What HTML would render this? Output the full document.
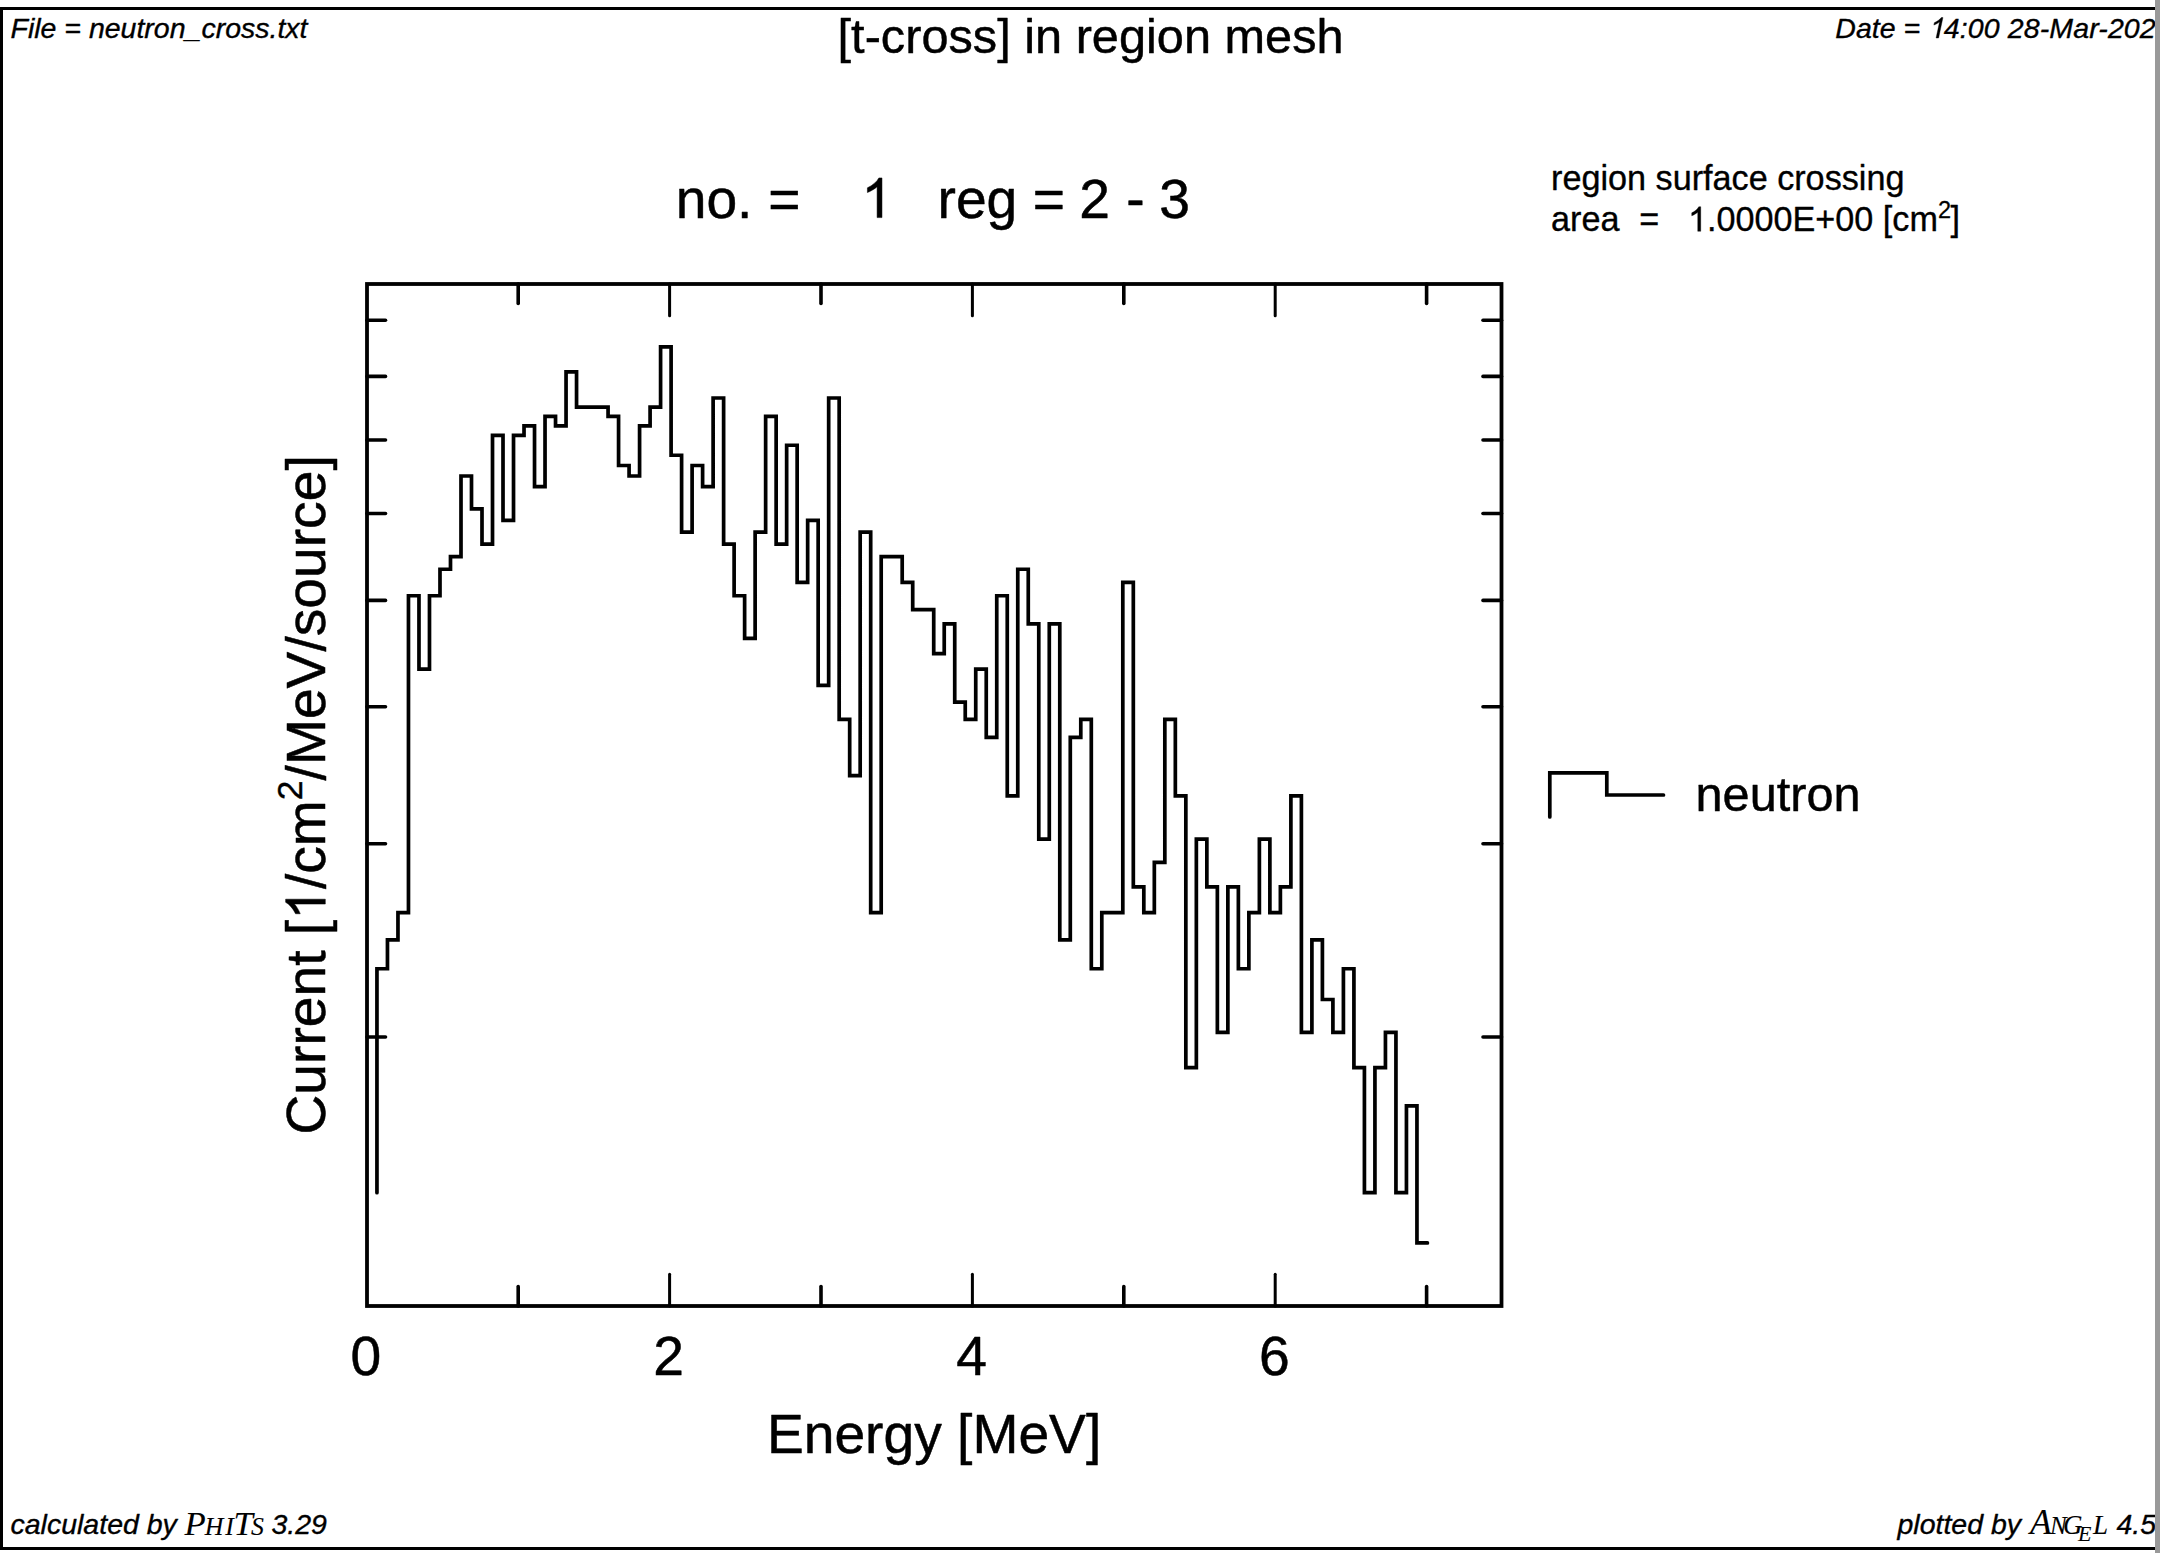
<!DOCTYPE html>
<html><head><meta charset="utf-8"><title>t-cross</title>
<style>
html,body{margin:0;padding:0;background:#fff;}
body{width:2160px;height:1553px;overflow:hidden;position:relative;font-family:"Liberation Sans",sans-serif;}
svg{position:absolute;left:0;top:0;display:block}
svg text{font-family:"Liberation Sans",sans-serif;fill:#000;stroke:#000;stroke-linejoin:round}
.b{stroke-width:0.5px}
.t{stroke-width:0.45px}
.c{stroke-width:0.35px}
.it{font-style:italic;stroke-width:0.35px}
svg text.se{font-family:"Liberation Serif",serif;font-style:italic;stroke-width:0.1px}
</style></head><body>
<svg width="2160" height="1553" viewBox="0 0 2160 1553">
<rect x="0" y="0" width="2160" height="1553" fill="#fff"/>
<!-- outer page frame -->
<rect x="0" y="7" width="2155" height="3" fill="#000"/>
<rect x="0" y="1547" width="2155" height="3" fill="#000"/>
<rect x="0" y="7" width="3" height="1543" fill="#000"/>
<!-- header / footer -->
<text class="it" x="10.5" y="38" font-size="28.5">File = neutron_cross.txt</text>
<text class="it" x="1835.30" y="38" font-size="28.5">Date = </text><path d="M763 0L583 0L583 -1147Q518 -1085 412.5 -1023Q307 -961 223 -930L223 -1104Q374 -1175 487 -1276Q600 -1377 647 -1472L763 -1472Z" transform="translate(1927.98 38.00) skewX(-12) scale(0.01392)" fill="#000" stroke="#000" stroke-width="25.2"/><text class="it" x="1943.83" y="38" font-size="28.5" letter-spacing="0.12">4:00 28-Mar-202</text>
<text class="t" x="837.6" y="53.1" font-size="48.7">[t-cross] in region mesh</text>
<text class="it" x="10.5" y="1534" font-size="28.5">calculated by</text>
<text class="se" x="184.5" y="1534.5" font-size="34.7">P</text>
<text class="se" x="204.8" y="1534.5" font-size="25.8">H</text>
<text class="se" x="225.2" y="1534.5" font-size="25.8">I</text>
<text class="se" x="233.5" y="1534.5" font-size="34.7">T</text>
<text class="se" x="251" y="1534.5" font-size="25.8">S</text>
<text class="it" x="271.5" y="1534" font-size="28.5">3.29</text>
<text class="it" x="1897.5" y="1534" font-size="28.5">plotted by</text>
<text class="se" x="2030" y="1534" font-size="35.5">A</text>
<text class="se" x="2050" y="1534" font-size="25">N</text>
<text class="se" x="2063" y="1534" font-size="27">G</text>
<text class="se" x="2078" y="1540.6" font-size="22">E</text>
<text class="se" x="2093" y="1534" font-size="27">L</text>
<text class="it" x="2116.5" y="1534" font-size="28.5">4.55</text>
<!-- subtitle -->
<g font-size="55.2">
<text class="b" x="675.7" y="217.6">no.</text><text class="b" x="768.3" y="217.6">=</text><path d="M763 0L583 0L583 -1147Q518 -1085 412.5 -1023Q307 -961 223 -930L223 -1104Q374 -1175 487 -1276Q600 -1377 647 -1472L763 -1472Z" transform="translate(861.40 217.60) scale(0.02695)" fill="#000" stroke="#000" stroke-width="18.6"/>
<text class="b" x="937.5" y="217.6">reg</text><text class="b" x="1032.7" y="217.6">=</text><text class="b" x="1079.3" y="217.6">2</text><text class="b" x="1126.2" y="217.6">-</text><text class="b" x="1159.2" y="217.6">3</text>
</g>
<!-- info -->
<text class="c" x="1551" y="190" font-size="34.2">region surface crossing</text>
<text class="c" x="1551" y="231.3" font-size="34.2">area</text><text class="c" x="1639.3" y="231.3" font-size="34.2">=</text><path d="M763 0L583 0L583 -1147Q518 -1085 412.5 -1023Q307 -961 223 -930L223 -1104Q374 -1175 487 -1276Q600 -1377 647 -1472L763 -1472Z" transform="translate(1688.00 231.30) scale(0.01670)" fill="#000" stroke="#000" stroke-width="21.0"/><text class="c" x="1707.02" y="231.3" font-size="34.2">.0000E+00 [cm</text><text class="c" x="1938.02" y="217.8" font-size="23.5" style="stroke-width:0.3px">2</text><text class="c" x="1950.59" y="231.3" font-size="34.2">]</text>
<!-- plot frame -->
<g stroke="#000" fill="none" stroke-linecap="round">
<rect x="367" y="284" width="1134.5" height="1022" stroke-width="3.8"/>
<line x1="518.20" y1="1306.00" x2="518.20" y2="1286.50" stroke-width="3.6"/>
<line x1="518.20" y1="284.00" x2="518.20" y2="303.50" stroke-width="3.6"/>
<line x1="669.60" y1="1306.00" x2="669.60" y2="1274.20" stroke-width="3.0"/>
<line x1="669.60" y1="284.00" x2="669.60" y2="315.80" stroke-width="3.0"/>
<line x1="821.00" y1="1306.00" x2="821.00" y2="1286.50" stroke-width="3.6"/>
<line x1="821.00" y1="284.00" x2="821.00" y2="303.50" stroke-width="3.6"/>
<line x1="972.40" y1="1306.00" x2="972.40" y2="1274.20" stroke-width="3.0"/>
<line x1="972.40" y1="284.00" x2="972.40" y2="315.80" stroke-width="3.0"/>
<line x1="1123.80" y1="1306.00" x2="1123.80" y2="1286.50" stroke-width="3.6"/>
<line x1="1123.80" y1="284.00" x2="1123.80" y2="303.50" stroke-width="3.6"/>
<line x1="1275.20" y1="1306.00" x2="1275.20" y2="1274.20" stroke-width="3.0"/>
<line x1="1275.20" y1="284.00" x2="1275.20" y2="315.80" stroke-width="3.0"/>
<line x1="1426.60" y1="1306.00" x2="1426.60" y2="1286.50" stroke-width="3.6"/>
<line x1="1426.60" y1="284.00" x2="1426.60" y2="303.50" stroke-width="3.6"/>
<line x1="367.00" y1="1037.00" x2="385.50" y2="1037.00" stroke-width="3.6"/>
<line x1="1501.50" y1="1037.00" x2="1483.00" y2="1037.00" stroke-width="3.6"/>
<line x1="367.00" y1="843.80" x2="385.50" y2="843.80" stroke-width="3.6"/>
<line x1="1501.50" y1="843.80" x2="1483.00" y2="843.80" stroke-width="3.6"/>
<line x1="367.00" y1="706.71" x2="385.50" y2="706.71" stroke-width="3.6"/>
<line x1="1501.50" y1="706.71" x2="1483.00" y2="706.71" stroke-width="3.6"/>
<line x1="367.00" y1="600.38" x2="385.50" y2="600.38" stroke-width="3.6"/>
<line x1="1501.50" y1="600.38" x2="1483.00" y2="600.38" stroke-width="3.6"/>
<line x1="367.00" y1="513.51" x2="385.50" y2="513.51" stroke-width="3.6"/>
<line x1="1501.50" y1="513.51" x2="1483.00" y2="513.51" stroke-width="3.6"/>
<line x1="367.00" y1="440.05" x2="385.50" y2="440.05" stroke-width="3.6"/>
<line x1="1501.50" y1="440.05" x2="1483.00" y2="440.05" stroke-width="3.6"/>
<line x1="367.00" y1="376.42" x2="385.50" y2="376.42" stroke-width="3.6"/>
<line x1="1501.50" y1="376.42" x2="1483.00" y2="376.42" stroke-width="3.6"/>
<line x1="367.00" y1="320.30" x2="385.50" y2="320.30" stroke-width="3.6"/>
<line x1="1501.50" y1="320.30" x2="1483.00" y2="320.30" stroke-width="3.6"/>

</g>
<!-- histogram -->
<path d="M376.95 1192.70 L376.95 968.74 L387.46 968.74 L387.46 939.85 L397.96 939.85 L397.96 912.62 L408.47 912.62 L408.47 595.75 L418.98 595.75 L418.98 669.20 L429.48 669.20 L429.48 595.75 L439.99 595.75 L439.99 569.27 L450.49 569.27 L450.49 556.56 L461.00 556.56 L461.00 476.00 L471.50 476.00 L471.50 508.87 L482.00 508.87 L482.00 544.18 L492.51 544.18 L492.51 435.42 L503.01 435.42 L503.01 520.35 L513.52 520.35 L513.52 435.42 L524.02 435.42 L524.02 425.79 L534.53 425.79 L534.53 486.70 L545.03 486.70 L545.03 416.35 L555.54 416.35 L555.54 425.79 L566.05 425.79 L566.05 371.79 L576.55 371.79 L576.55 407.10 L587.06 407.10 L587.06 407.10 L597.56 407.10 L597.56 407.10 L608.07 407.10 L608.07 416.35 L618.57 416.35 L618.57 465.52 L629.08 465.52 L629.08 476.00 L639.58 476.00 L639.58 425.79 L650.09 425.79 L650.09 407.10 L660.59 407.10 L660.59 346.92 L671.10 346.92 L671.10 455.27 L681.60 455.27 L681.60 532.12 L692.11 532.12 L692.11 465.52 L702.61 465.52 L702.61 486.70 L713.12 486.70 L713.12 398.02 L723.62 398.02 L723.62 544.18 L734.12 544.18 L734.12 595.75 L744.63 595.75 L744.63 638.45 L755.13 638.45 L755.13 532.12 L765.64 532.12 L765.64 416.35 L776.14 416.35 L776.14 544.18 L786.65 544.18 L786.65 445.24 L797.15 445.24 L797.15 582.32 L807.66 582.32 L807.66 520.35 L818.16 520.35 L818.16 685.36 L828.67 685.36 L828.67 398.02 L839.17 398.02 L839.17 719.41 L849.68 719.41 L849.68 775.53 L860.18 775.53 L860.18 532.12 L870.69 532.12 L870.69 912.62 L881.19 912.62 L881.19 556.56 L891.70 556.56 L891.70 556.56 L902.20 556.56 L902.20 582.32 L912.71 582.32 L912.71 609.56 L923.21 609.56 L923.21 609.56 L933.72 609.56 L933.72 653.58 L944.23 653.58 L944.23 623.79 L954.73 623.79 L954.73 702.08 L965.24 702.08 L965.24 719.41 L975.74 719.41 L975.74 669.20 L986.25 669.20 L986.25 737.39 L996.75 737.39 L996.75 595.75 L1007.26 595.75 L1007.26 795.81 L1017.76 795.81 L1017.76 569.27 L1028.27 569.27 L1028.27 623.79 L1038.77 623.79 L1038.77 839.16 L1049.28 839.16 L1049.28 623.79 L1059.78 623.79 L1059.78 939.85 L1070.29 939.85 L1070.29 737.39 L1080.79 737.39 L1080.79 719.41 L1091.30 719.41 L1091.30 968.74 L1101.80 968.74 L1101.80 912.62 L1112.31 912.62 L1112.31 912.62 L1122.81 912.62 L1122.81 582.32 L1133.32 582.32 L1133.32 886.85 L1143.82 886.85 L1143.82 912.62 L1154.33 912.62 L1154.33 862.41 L1164.83 862.41 L1164.83 719.41 L1175.34 719.41 L1175.34 795.81 L1185.84 795.81 L1185.84 1067.68 L1196.35 1067.68 L1196.35 839.16 L1206.85 839.16 L1206.85 886.85 L1217.36 886.85 L1217.36 1032.37 L1227.86 1032.37 L1227.86 886.85 L1238.37 886.85 L1238.37 968.74 L1248.87 968.74 L1248.87 912.62 L1259.38 912.62 L1259.38 839.16 L1269.88 839.16 L1269.88 912.62 L1280.38 912.62 L1280.38 886.85 L1290.89 886.85 L1290.89 795.81 L1301.39 795.81 L1301.39 1032.37 L1311.90 1032.37 L1311.90 939.85 L1322.40 939.85 L1322.40 999.49 L1332.91 999.49 L1332.91 1032.37 L1343.41 1032.37 L1343.41 968.74 L1353.92 968.74 L1353.92 1067.68 L1364.42 1067.68 L1364.42 1192.70 L1374.93 1192.70 L1374.93 1067.68 L1385.44 1067.68 L1385.44 1032.37 L1395.94 1032.37 L1395.94 1192.70 L1406.45 1192.70 L1406.45 1105.82 L1416.95 1105.82 L1416.95 1242.91 L1427.46 1242.91" fill="none" stroke="#000" stroke-width="3.7" stroke-linejoin="miter" stroke-linecap="round"/>
<!-- axis labels -->
<text class="b" x="365.9" y="1375" text-anchor="middle" font-size="55.2">0</text>
<text class="b" x="668.7" y="1375" text-anchor="middle" font-size="55.2">2</text>
<text class="b" x="971.5" y="1375" text-anchor="middle" font-size="55.2">4</text>
<text class="b" x="1274.3" y="1375" text-anchor="middle" font-size="55.2">6</text>

<text class="b" x="766.9" y="1452.7" font-size="55.2">Energy [MeV]</text>
<g transform="translate(325.3 1134.5) rotate(-90)"><text class="b" x="0" y="0" font-size="55.2">Current [</text><path d="M763 0L583 0L583 -1147Q518 -1085 412.5 -1023Q307 -961 223 -930L223 -1104Q374 -1175 487 -1276Q600 -1377 647 -1472L763 -1472Z" transform="translate(214.74 0.00) scale(0.02695)" fill="#000" stroke="#000" stroke-width="18.6"/><text class="b" x="245.44" y="0" font-size="55.2">/cm</text><text class="b" x="334.35" y="-23.5" font-size="35.5" style="stroke-width:0.4px">2</text><text class="b" x="354.10" y="0" font-size="55.2">/MeV/source]</text></g>
<!-- legend -->
<path d="M1549.8 817 L1549.8 772.9 L1606.8 772.9 L1606.8 795 L1663.5 795" fill="none" stroke="#000" stroke-width="3.7" stroke-linecap="round" stroke-linejoin="miter"/>
<text class="t" x="1695.5" y="810.8" font-size="48.7">neutron</text>
<!-- right scroll strip -->
<rect x="2155" y="0" width="5" height="1553" fill="#999"/>
</svg>
</body></html>
